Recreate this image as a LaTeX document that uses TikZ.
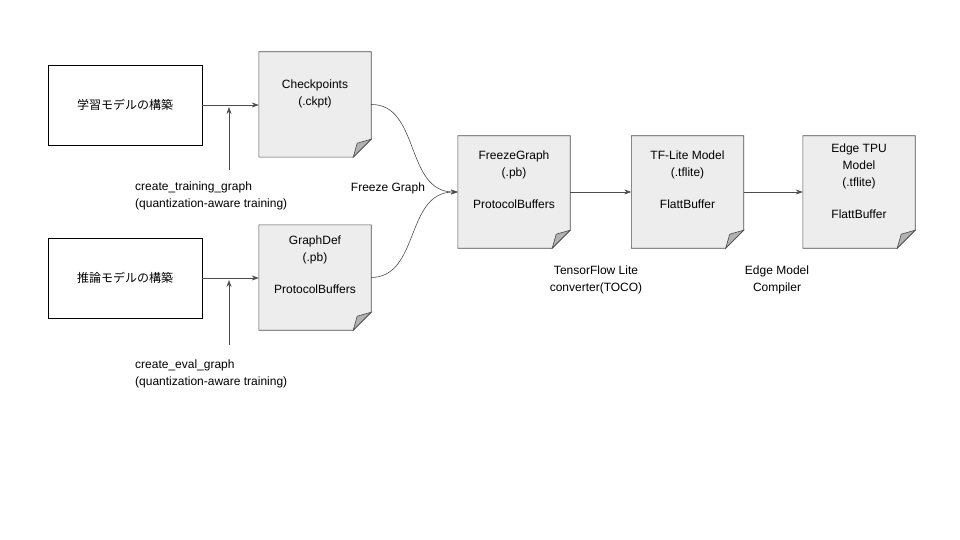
\documentclass[tikz,border=0pt]{standalone}
\usepackage{fontspec}
\usetikzlibrary{arrows.meta}
\setmainfont{Liberation Sans}
\newfontfamily\cjk{Noto Sans CJK JP}
\begin{document}
\begin{tikzpicture}[x=1pt,y=-1pt,
  every node/.style={font=\fontsize{12}{17}\selectfont, align=center, inner sep=0pt},
  box/.style={draw, line width=0.8pt, minimum width=154pt, minimum height=80pt, font=\fontsize{12}{17}\selectfont\cjk},
  doc/.style={minimum width=112pt, minimum height=#1},
  arr/.style={draw=black!70, line width=0.6pt, -{Stealth[length=7pt,width=5pt]}},
  lbl/.style={anchor=north west, align=left}]
\useasboundingbox (0,0) rectangle (960,540);
\newcommand\docdraw[1]{%
  \draw[fill=black!7, draw=black!70, line width=0.6pt] (#1.north west) -- (#1.north east) -- ([yshift=18pt]#1.south east) -- ([xshift=-18pt]#1.south east) -- (#1.south west) -- cycle;
  \draw[fill=black!30, draw=black!70, line width=0.6pt] ([xshift=-18pt]#1.south east) -- ([yshift=18pt]#1.south east) -- ([xshift=-14pt,yshift=14pt]#1.south east) -- cycle;}
\node[box] (b1) at (125,105) {学習モデルの構築};
\node[box] (b2) at (125,278) {推論モデルの構築};
\node[doc=105pt] (ck) at (315,104.5) {};
\node[doc=105pt] (gd) at (315,277.5) {};
\node[doc=112pt] (fg) at (514,192) {};
\node[doc=112pt] (tf) at (687.5,192) {};
\node[doc=112pt] (et) at (859,192) {};
\docdraw{ck}\docdraw{gd}\docdraw{fg}\docdraw{tf}\docdraw{et}
\node[anchor=north] (tck) at (315,80) {Checkpoints\\(.ckpt)};
\node[anchor=north] (tgd) at (315,236) {GraphDef\\(.pb)\\[15pt]ProtocolBuffers};
\node[anchor=north] (tfg) at (514,151) {FreezeGraph\\(.pb)\\[15pt]ProtocolBuffers};
\node[anchor=north] (ttf) at (687.5,151) {TF-Lite Model\\(.tflite)\\[15pt]FlattBuffer};
\node[anchor=north] (tet) at (859,144) {Edge TPU\\Model\\(.tflite)\\[15pt]FlattBuffer};
\node[lbl] (l1) at (135,182) {create\_training\_graph\\(quantization-aware training)};
\node[lbl] (l2) at (135,360) {create\_eval\_graph\\(quantization-aware training)};
\node (fz) at (388,188) {Freeze Graph};
\node[anchor=north] (tc) at (596,266) {TensorFlow Lite\\converter(TOCO)};
\node[anchor=north] (ec) at (777,266) {Edge Model\\Compiler};
\coordinate (u1) at (229,170); \coordinate (v1) at (229,107);
\coordinate (u2) at (229,345); \coordinate (v2) at (229,280);
\draw[arr] (b1.east) -- (ck.west |- b1.east);
\draw[arr] (b2.east) -- (gd.west |- b2.east);
\draw[arr] (u1) -- (v1);
\draw[arr] (u2) -- (v2);
\draw[arr] (ck.east) .. controls (420,104) and (405,192) .. (fg.west);
\draw[arr] (gd.east) .. controls (420,277) and (405,192) .. (fg.west);
\draw[arr] (fg.east) -- (tf.west);
\draw[arr] (tf.east) -- (et.west);
\end{tikzpicture}
\end{document}
